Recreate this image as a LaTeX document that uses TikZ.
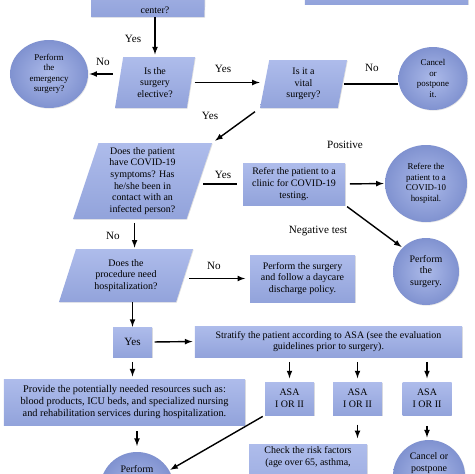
\documentclass[tikz,border=0pt]{standalone}
\usepackage{fontspec}
\setmainfont{Liberation Serif}
\usetikzlibrary{arrows,shapes.geometric,shadows}
\definecolor{boxtop}{RGB}{174,188,235}
\definecolor{boxbot}{RGB}{146,163,219}
\definecolor{ballin}{RGB}{172,186,233}
\definecolor{ballout}{RGB}{128,146,208}
\newcommand{\boxfont}{\fontsize{8.5}{10}\selectfont}
\newcommand{\ballfont}{\fontsize{7.6}{9}\selectfont}
\newcommand{\lblfont}{\fontsize{9.5}{11}\selectfont}
\newcommand{\provfont}{\fontsize{8.8}{10}\selectfont}

\begin{document}
\begin{tikzpicture}[>=latex, x=0.03cm, y=-0.03cm,
    box/.style={rectangle, top color=boxtop, bottom color=boxbot, align=center, font=\boxfont, inner sep=1pt,
      drop shadow={opacity=0.25, shadow xshift=0.6pt, shadow yshift=-0.6pt}},
    pgram/.style={trapezium, trapezium stretches body, top color=boxtop, bottom color=boxbot, align=center, font=\boxfont, inner sep=1pt,
      drop shadow={opacity=0.25, shadow xshift=0.6pt, shadow yshift=-0.6pt}},
    ball/.style={ellipse, inner color=ballin, outer color=ballout, align=center, font=\ballfont, inner sep=0pt,
      drop shadow={opacity=0.2, shadow xshift=0.6pt, shadow yshift=-0.6pt}},
    lbl/.style={font=\lblfont}]
    \useasboundingbox (0,0) rectangle (474,474);
    \clip (0,0) rectangle (474,474);

    \node at (148,-8) [pgram, trapezium left angle=76, trapezium right angle=104, minimum width=3.42cm, minimum height=1.5cm](refq){};
    \node at (155,10) [font=\boxfont](refqtxt){center?};
    \node at (386.5,-16) [box, minimum width=4.89cm, minimum height=1.2cm](topbox){};
    \node at (155,82.5) [pgram, trapezium left angle=76, trapezium right angle=104, minimum width=2.4cm, minimum height=1.53cm](elective){Is the\\surgery\\elective?};
    \node at (49,74) [ball, minimum width=2.34cm, minimum height=2.04cm](emerg){Perform\\the\\emergency\\surgery?};
    \node at (303.5,84) [pgram, trapezium left angle=75, trapezium right angle=105, minimum width=2.61cm, minimum height=1.44cm](vital){Is it a\\vital\\surgery?};
    \node at (433,78.5) [ball, minimum width=2.07cm, minimum height=1.89cm](cancel){Cancel\\or\\postpone\\it.};
    \node at (142.5,181) [pgram, trapezium left angle=70, trapezium right angle=110, minimum width=4.17cm, minimum height=2.28cm](covid){Does the patient\\have COVID-19\\symptoms? Has\\he/she been in\\contact with an\\infected person?};
    \node at (294,184) [box, minimum width=3.06cm, minimum height=1.26cm](clinic){Refer the patient to a\\clinic for COVID-19\\testing.};
    \node at (426,183.5) [ball, minimum width=2.46cm, minimum height=2.31cm](covhosp){Refere the\\patient to a\\COVID-10\\hospital.};
    \node at (426,271.5) [ball, font=\boxfont, minimum width=1.98cm, minimum height=2.01cm](perform){Perform\\the\\surgery.};
    \node at (126,275.5) [pgram, trapezium left angle=64, trapezium right angle=116, minimum width=4.02cm, minimum height=1.59cm](hosp){Does the\\procedure need\\hospitalization?};
    \node at (302.5,278.5) [box, minimum width=3.15cm, minimum height=1.41cm](daycare){Perform the surgery\\and follow a daycare\\discharge policy.};
    \node at (132.5,342) [box, font=\lblfont, minimum width=1.17cm, minimum height=0.9cm](yesbox){Yes};
    \node at (328.5,341.5) [box, minimum width=8.01cm, minimum height=0.93cm](stratify){Stratify the patient according to ASA (see the evaluation\\guidelines prior to surgery).};
    \node at (124.5,402) [box, font=\provfont, minimum width=7.23cm, minimum height=1.38cm](resources){Provide the potentially needed resources such as:\\blood products, ICU beds, and specialized nursing\\and rehabilitation services during hospitalization.};
    \node at (289.5,398.5) [box, minimum width=1.47cm, minimum height=0.99cm](asa1){ASA\\I OR II};
    \node at (asa1) [box, xshift=2.04cm, minimum width=1.47cm, minimum height=0.99cm](asa2){ASA\\I OR II};
    \node at (asa1) [box, xshift=4.125cm, minimum width=1.47cm, minimum height=0.99cm](asa3){ASA\\I OR II};
    \node at (137,489) [ball, minimum width=2.22cm, minimum height=2.22cm](performb){};
    \node at (137,469) [font=\boxfont](performbtxt){Perform};
    \node at (308,444) [box, anchor=north, inner sep=2pt, minimum width=3.54cm, text depth=1.4cm](risk){Check the risk factors\\(age over 65, asthma,};
    \node at (429,476) [ball, minimum width=2.16cm, minimum height=2.16cm](cancelb){};
    \node at (429,463) [font=\boxfont, align=center](cancelbtxt){Cancel or\\postpone};

    %% Labels
    \node at (133,39) [lbl](lyes1){Yes};
    \node at (103,62) [lbl](lno1){No};
    \node at (223,69) [lbl](lyes2){Yes};
    \node at (372,68) [lbl](lno2){No};
    \node at (210,116) [lbl](lyes3){Yes};
    \node at (223,175) [lbl](lyes4){Yes};
    \node at (345,145) [lbl](lpos){Positive};
    \node at (318,231) [lbl](lneg){Negative test};
    \node at (113,236) [lbl](lno3){No};
    \node at (214,266) [lbl](lno4){No};

    %% Arrows
    \draw [->, very thick, shorten >=2pt] (refq.south -| elective.north) -- (elective.north);
    \draw [->, very thick, shorten <=5pt, shorten >=1pt] (emerg.east -| elective.west) -- (emerg.east);
    \draw [->, very thick, shorten <=3pt, shorten >=4pt] (elective.east) -- (elective.east -| vital.west);
    \draw [very thick, shorten <=1pt] (vital.east) -- (vital.east -| cancel.west);
    \draw [->, very thick, shorten <=5pt, shorten >=3pt] (vital.bottom left corner) -- (covid.top right corner);
    \draw [very thick, shorten <=3pt, shorten >=5pt] (covid.east |- clinic.west) -- (clinic.west);
    \draw [->, very thick, shorten <=4pt, shorten >=1pt] (clinic.east) -- (covhosp.west);
    \draw [->, very thick, shorten <=2pt, shorten >=1pt] (clinic.south east) -- (perform.north west);
    \draw [->, very thick, shorten <=3pt, shorten >=1pt] (covid.south -| hosp.top side) -- (hosp.top side);
    \draw [->, very thick, shorten <=4pt, shorten >=4pt] (hosp.east |- daycare.west) -- (daycare.west);
    \draw [->, very thick] (yesbox.north |- hosp.south) -- (yesbox.north);
    \draw [->, very thick, shorten <=2pt, shorten >=2pt] (yesbox.east) -- (stratify.west);
    \draw [->, very thick, shorten <=4pt, shorten >=2pt] (yesbox.south) -- (yesbox.south |- resources.north);
    \foreach \n in {asa1,asa2,asa3}
      \draw [->, very thick, shorten <=4pt, shorten >=3pt] (stratify.south -| \n.north) -- (\n.north);
    \draw [->, very thick, shorten <=5pt, shorten >=5pt] (performb.north |- resources.south) -- (performb.north);
    \draw [->, very thick, shorten <=2pt, shorten >=1pt] (asa1.south west) -- (performb);
    \draw [->, very thick, shorten <=8pt, shorten >=5pt] (asa2.south) -- (asa2.south |- risk.north);
    \draw [->, very thick, shorten <=9pt, shorten >=2pt] (asa3.south) -- (asa3.south |- cancelb.north);
  \end{tikzpicture}
\end{document}
